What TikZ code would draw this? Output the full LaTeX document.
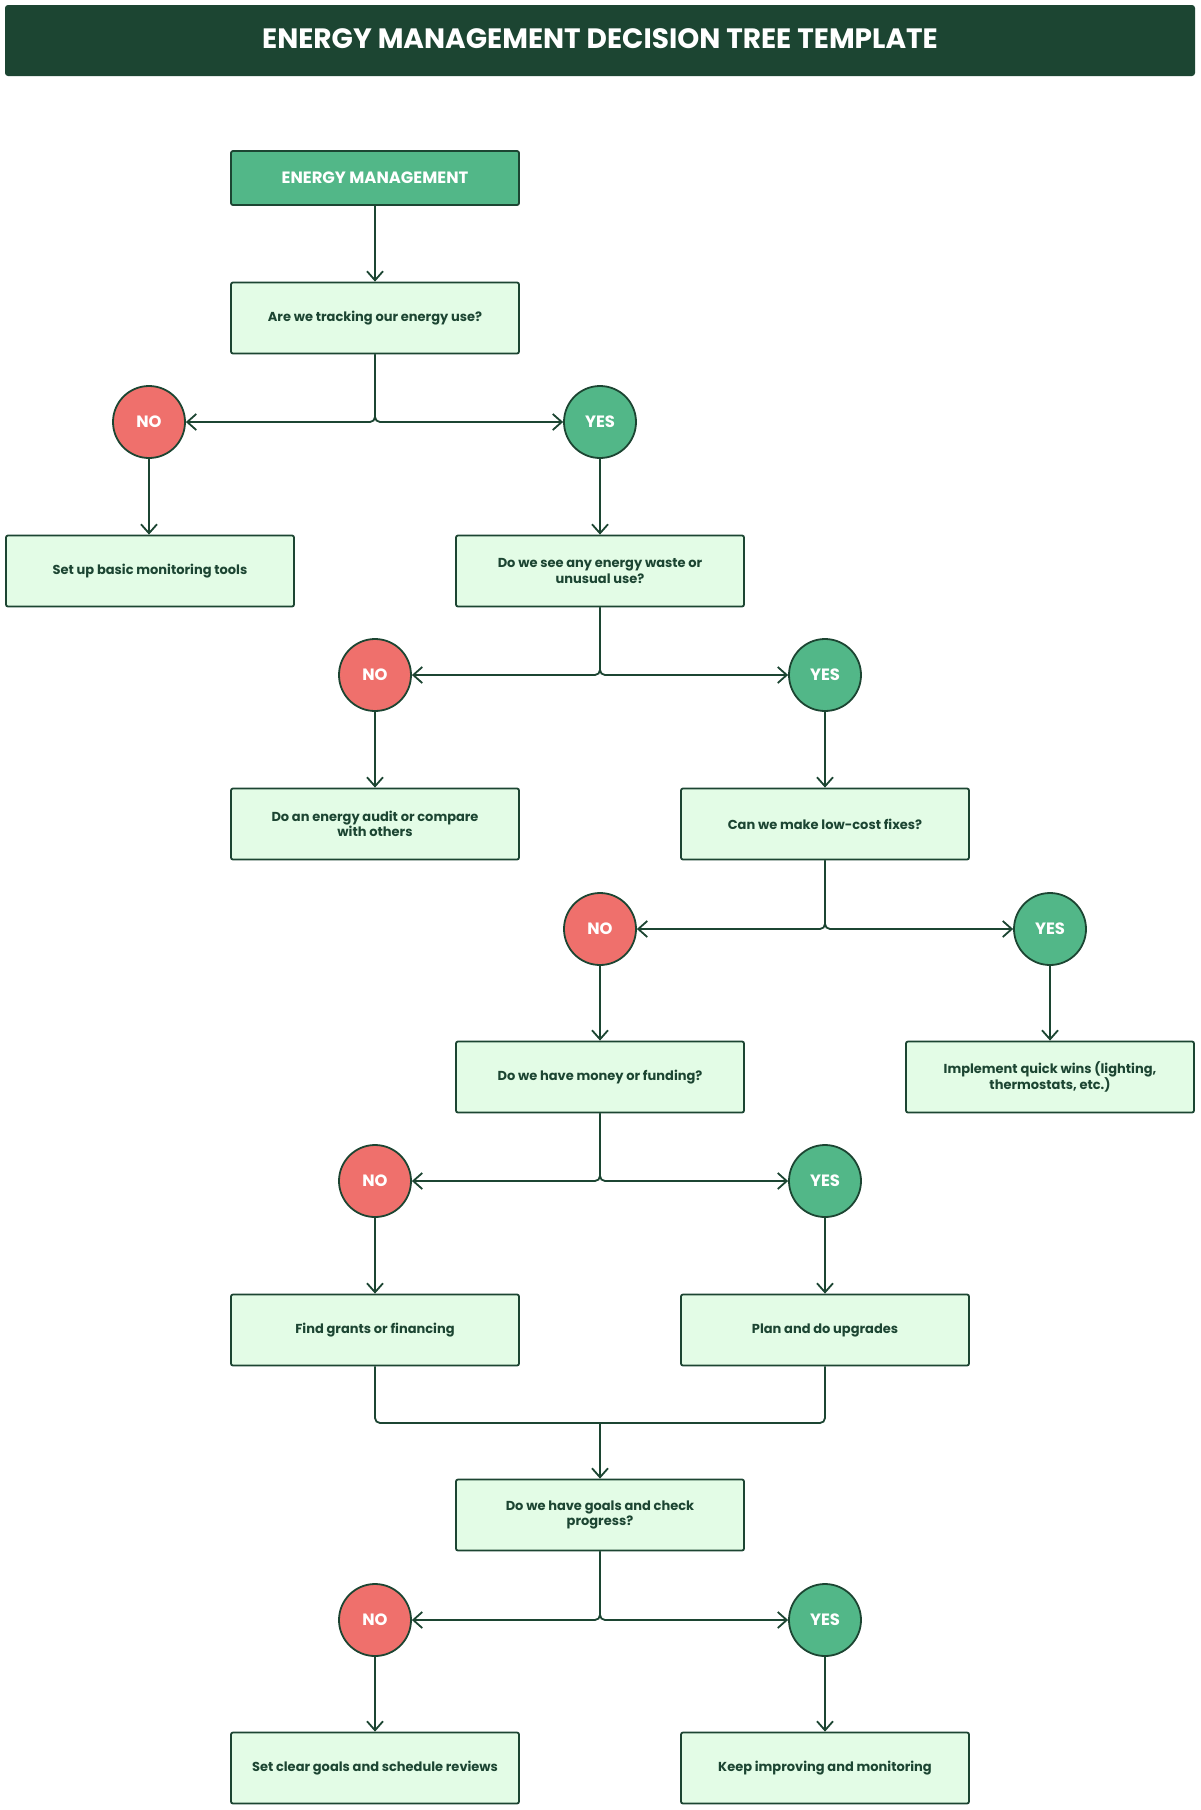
\documentclass[tikz,border=0pt]{standalone}
\usepackage{fontspec}
\setmainfont{Poppins}
\usetikzlibrary{arrows.meta}
\definecolor{dkgreen}{HTML}{1C4532}
\definecolor{midgreen}{HTML}{52B788}
\definecolor{ltgreen}{HTML}{E3FCE6}
\definecolor{nored}{HTML}{EF706C}
\tikzset{
  qbox/.style={draw=dkgreen, line width=0.9pt, fill=ltgreen, rounded corners=1pt,
    minimum width=144pt, minimum height=35.5pt, align=center, text=dkgreen,
    font=\bfseries\fontsize{6.5}{7.8}\selectfont, inner sep=2pt},
  headbox/.style={qbox, fill=midgreen, text=white, minimum height=27pt,
    font=\bfseries\fontsize{8.2}{9.5}\selectfont},
  nocirc/.style={circle, draw=dkgreen, line width=0.9pt, fill=nored, minimum size=36pt,
    inner sep=0pt, text=white, font=\bfseries\fontsize{8.2}{9.5}\selectfont},
  yescirc/.style={nocirc, fill=midgreen},
  conn/.style={draw=dkgreen, line width=0.9pt, rounded corners=2.5pt,
    -{Straight Barb[length=4.5pt,width=8pt,line width=0.9pt]}},
  plain/.style={draw=dkgreen, line width=0.9pt, rounded corners=2.5pt}
}
\begin{document}
\begin{tikzpicture}[x=0.5pt,y=-0.5pt]
\useasboundingbox (0,0) rectangle (1200,1810);
\fill[white] (0,0) rectangle (1200,1810);
\fill[dkgreen, rounded corners=1.5pt] (5,5) rectangle (1195,76);
\node[text=white, font=\bfseries\fontsize{14}{16}\selectfont] (title) at (600,39) {ENERGY MANAGEMENT DECISION TREE TEMPLATE};

\node[headbox] (em) at (375,178) {ENERGY MANAGEMENT};
\node[qbox] (q1) at (375,318) {Are we tracking our energy use?};
\node[nocirc] (no1) at (149,422) {NO};
\node[yescirc] (yes1) at (600,422) {YES};
\node[qbox] (setup) at (150,571) {Set up basic monitoring tools};
\node[qbox] (q2) at (600,571) {Do we see any energy waste or\\unusual use?};
\node[nocirc] (no2) at (375,675) {NO};
\node[yescirc] (yes2) at (825,675) {YES};
\node[qbox] (audit) at (375,824) {Do an energy audit or compare\\with others};
\node[qbox] (q3) at (825,824) {Can we make low-cost fixes?};
\node[nocirc] (no3) at (600,929) {NO};
\node[yescirc] (yes3) at (1050,929) {YES};
\node[qbox] (q4) at (600,1077) {Do we have money or funding?};
\node[qbox] (quick) at (1050,1077) {Implement quick wins (lighting,\\thermostats, etc.)};
\node[nocirc] (no4) at (375,1181) {NO};
\node[yescirc] (yes4) at (825,1181) {YES};
\node[qbox] (grants) at (375,1330) {Find grants or financing};
\node[qbox] (upg) at (825,1330) {Plan and do upgrades};
\node[qbox] (q5) at (600,1515) {Do we have goals and check\\progress?};
\node[nocirc] (no5) at (375,1620) {NO};
\node[yescirc] (yes5) at (825,1620) {YES};
\node[qbox] (clear) at (375,1768) {Set clear goals and schedule reviews};
\node[qbox] (keep) at (825,1768) {Keep improving and monitoring};

\draw[conn] (em) -- (q1);
\draw[conn] (q1.south) |- (no1.east);
\draw[conn] (q1.south) |- (yes1.west);
\draw[conn] (no1) -- (setup.north -| no1);
\draw[conn] (yes1) -- (q2);
\draw[conn] (q2.south) |- (no2.east);
\draw[conn] (q2.south) |- (yes2.west);
\draw[conn] (no2) -- (audit);
\draw[conn] (yes2) -- (q3);
\draw[conn] (q3.south) |- (no3.east);
\draw[conn] (q3.south) |- (yes3.west);
\draw[conn] (no3) -- (q4);
\draw[conn] (yes3) -- (quick);
\draw[conn] (q4.south) |- (no4.east);
\draw[conn] (q4.south) |- (yes4.west);
\draw[conn] (no4) -- (grants);
\draw[conn] (yes4) -- (upg);
\coordinate (merge) at (600,1423);
\draw[plain] (grants.south) |- (merge);
\draw[plain] (upg.south) |- (merge);
\draw[conn] (merge) -- (q5);
\draw[conn] (q5.south) |- (no5.east);
\draw[conn] (q5.south) |- (yes5.west);
\draw[conn] (no5) -- (clear);
\draw[conn] (yes5) -- (keep);
\end{tikzpicture}
\end{document}
